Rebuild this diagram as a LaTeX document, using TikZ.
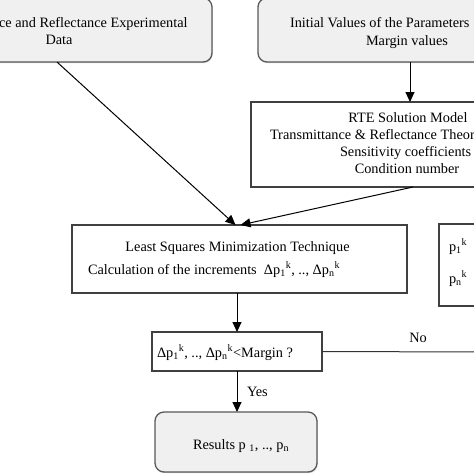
\documentclass[tikz,border=0pt]{standalone}
\usepackage{fontspec}
\setmainfont{Liberation Serif}
\usetikzlibrary{arrows.meta,shadows}
\begin{document}
\begin{tikzpicture}[x=1pt,y=-1pt,
  every node/.style={font=\fontsize{14.3}{17}\selectfont, inner sep=0pt, outer sep=0pt},
  rbox/.style={draw=black!65, line width=1.3pt, fill=black!6, rounded corners=9pt,
    drop shadow={opacity=0.35, shadow xshift=0.6pt, shadow yshift=-1.2pt}},
  sbox/.style={draw=black!75, line width=1.2pt, fill=white},
  txt/.style={anchor=base},
  txtl/.style={anchor=base west},
  arr/.style={draw=black, line width=1pt, -{Triangle[length=10pt,width=9pt]}},
  lin/.style={draw=black!80, line width=1pt}]
\useasboundingbox (0,0) rectangle (474,474);
\clip (0,0) rectangle (474,474);
\fill[white] (0,0) rectangle (474,474);
% boxes
\node[rbox, minimum width=306pt, minimum height=64pt] (tl) at (59,30) {};
\node[rbox, minimum width=298pt, minimum height=64pt] (tr) at (407,30) {};
\node[sbox, minimum width=312pt, minimum height=85pt] (rte) at (407,144.5) {};
\node[sbox, minimum width=335pt, minimum height=68pt] (ls) at (239.5,259) {};
\node[sbox, minimum width=121pt, minimum height=82pt] (pb) at (499.5,265) {};
\node[sbox, minimum width=170pt, minimum height=39pt] (dec) at (237,351.5) {};
\node[rbox, minimum width=162pt, minimum height=60pt] (res) at (236,442) {};
% texts
\node[txt] (tl1) at (59,27) {Transmittance and Reflectance Experimental};
\node[txt] (tl2) at (59,44) {Data};
\node[txtl] (tr1) at (290,27) {Initial Values of the Parameters};
\node[txt] (tr2) at (407,45) {Margin values};
\node[txt] (rte1) at (408,122) {RTE Solution Model};
\node[txtl] (rte2) at (270,139) {Transmittance \& Reflectance Theory};
\node[txtl] (rte3) at (340,156) {Sensitivity coefficients};
\node[txt] (rte4) at (407,173) {Condition number};
\node[txt] (ls1) at (237.5,251) {Least Squares Minimization Technique};
\node[txtl] (ls2) at (88,274) {Calculation of the increments \ Δp\textsubscript{1}\textsuperscript{k}, .., Δp\textsubscript{n}\textsuperscript{k}};
\node[txtl] (pb1) at (449,251) {p\textsubscript{1}\textsuperscript{k}};
\node[txtl] (pb2) at (449,283) {p\textsubscript{n}\textsuperscript{k}};
\node[txtl] (dec1) at (157,357) {Δp\textsubscript{1}\textsuperscript{k}, .., Δp\textsubscript{n}\textsuperscript{k}<Margin ?};
\node[txtl] (res1) at (193,449) {Results p \textsubscript{1}, .., p\textsubscript{n}};
\coordinate (noend) at (480,352);
% connectors
\draw[arr] ([xshift=-2pt]tl.south) -- ([xshift=-4pt]ls.north);
\draw[arr] ([xshift=6pt]rte.south) -- ([xshift=1pt]ls.north);
\draw[arr] ([xshift=3pt]tr.south) -- ([xshift=3pt]rte.north);
\draw[arr] (ls.south -| dec.north) -- (dec.north);
\draw[arr] (dec.south) -- (dec.south |- res.north);
\draw[lin] (dec.east) -- (noend);
\node[txt] (no) at (418,342) {No};
\node[txtl] (yes) at (247,396) {Yes};
\end{tikzpicture}
\end{document}
